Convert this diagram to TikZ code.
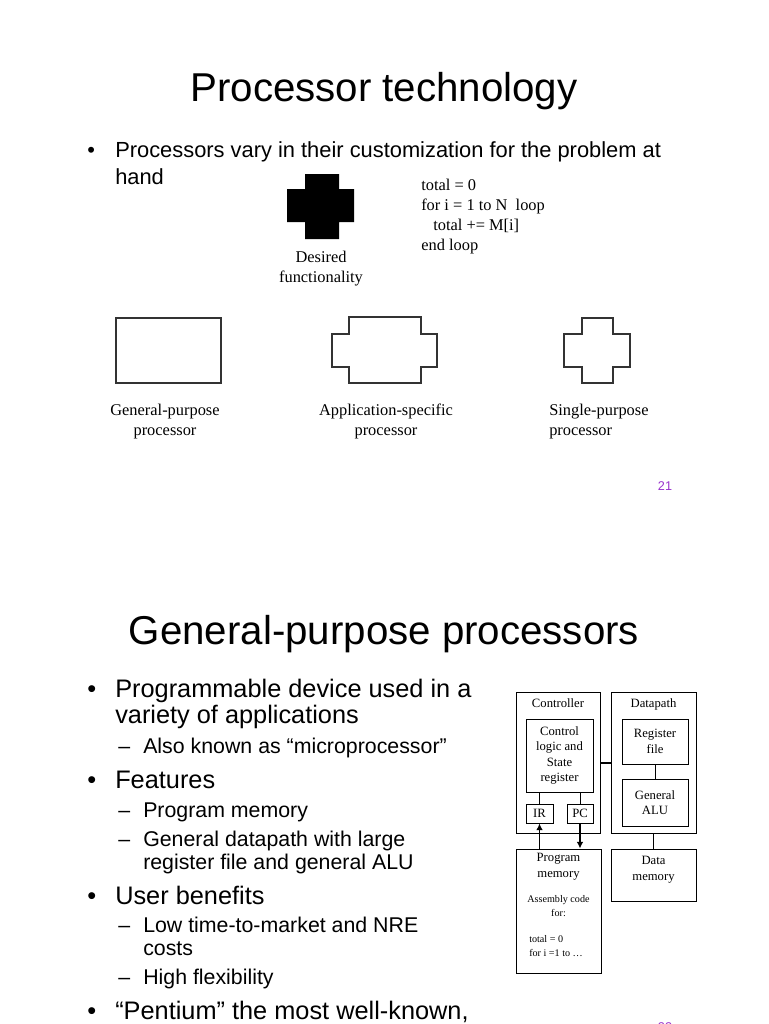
\documentclass[tikz,border=0pt]{standalone}
\usepackage{fontspec}
\setmainfont{Liberation Serif}
\setsansfont{Liberation Sans}
\usetikzlibrary{arrows.meta, positioning, calc}
\definecolor{pagenum}{RGB}{153,51,204}

\begin{document}
\begin{tikzpicture}[x=0.75pt, y=-0.75pt,
	title/.style={font=\sffamily\fontsize{30.2}{36}\selectfont, anchor=base, inner sep=0pt},
	txt/.style={font=\sffamily\fontsize{16.4}{19}\selectfont, anchor=base west, inner sep=0pt},
	big/.style={font=\sffamily\fontsize{19}{22}\selectfont, anchor=base west, inner sep=0pt},
	sub/.style={font=\sffamily\fontsize{16}{19}\selectfont, anchor=base west, inner sep=0pt},
	serif/.style={font=\rmfamily\fontsize{12.3}{15}\selectfont, anchor=base, inner sep=0pt},
	small/.style={font=\rmfamily\fontsize{9.5}{11.5}\selectfont, align=center, inner sep=0pt},
	tiny/.style={font=\rmfamily\fontsize{7.6}{10}\selectfont, inner sep=0pt},
	pnum/.style={font=\sffamily\fontsize{9.5}{11}\selectfont, text=pagenum, anchor=base, inner sep=0pt},
	outline/.style={draw=black!80, line width=0.9pt},
	box/.style={draw, line width=0.7pt, inner sep=0pt},
	bus/.style={line width=1.1pt, -{Latex[length=5pt, width=5pt]}}
	]
	\useasboundingbox[fill=white] (0,0) rectangle (768,1024);
	
	% --- SLIDE 21 ---
	\node[title] (t1) at (384,102) {Processor technology};
	\node[txt] (b0) at (87,157) {•};
	\node[txt] (p1a) at (115,157) {Processors vary in their customization for the problem at};
	\node[txt] (p1b) at (115,184) {hand};
	
	% Funcionalidad deseada
	\fill (305,174) -- (339,174) -- (339,189) -- (354,189) -- (354,222) -- (339,222)
		-- (339,239) -- (305,239) -- (305,222) -- (287,222) -- (287,189) -- (305,189) -- cycle;
	\node[serif] (des1) at (321,262) {Desired};
	\node[serif] (des2) at (321,282) {functionality};
	
	% Codigo
	\foreach \y/\x/\t in {190/421/{total = 0}, 210/421/{for i = 1 to N\ \ loop},
		230/433/{total += M[i]}, 250/421/{end loop}}
	\node[serif, anchor=base west] (code-\y) at (\x,\y) {\t};
	
	% Tres procesadores
	\draw[outline] (116,318) rectangle (221,383);
	\draw[outline] (349,317) -- (421,317) -- (421,334) -- (437,334) -- (437,367) -- (421,367)
		-- (421,383) -- (349,383) -- (349,367) -- (332,367) -- (332,334) -- (349,334) -- cycle;
	\draw[outline] (582,318) -- (613,318) -- (613,334) -- (630,334) -- (630,367) -- (613,367)
		-- (613,383) -- (582,383) -- (582,367) -- (564,367) -- (564,334) -- (582,334) -- cycle;
	
	\node[serif] (gp1) at (165,415) {General-purpose};
	\node[serif] (gp2) at (165,435) {processor};
	\node[serif] (as1) at (386,415) {Application-specific};
	\node[serif] (as2) at (386,435) {processor};
	\node[serif, anchor=base west] (sp1) at (549,415) {Single-purpose};
	\node[serif, anchor=base west] (sp2) at (549,435) {processor};
	
	\node[pnum] (n21) at (665,490) {21};
	
	% --- SLIDE 22 ---
	\node[title] (t2) at (384,644) {General-purpose processors};
	
	% Puntos principales
	\foreach \y/\t in {697/{Programmable device used in a}, 788/{Features},
		904/{User benefits}, 1019/{“Pentium” the most well-known,}} {
		\node[big] (bb-\y) at (87,\y) {•};
		\node[big] (bt-\y) at (115,\y) {\t};
	}
	\node[big] (bt-723) at (115,723) {variety of applications};
	
	% Subpuntos
	\foreach \y/\t in {753/{Also known as “microprocessor”}, 817/{Program memory},
		846/{General datapath with large}, 932/{Low time-to-market and NRE},
		984/{High flexibility}} {
		\node[sub] (sd-\y) at (118,\y) {–};
		\node[sub] (st-\y) at (143,\y) {\t};
	}
	\node[sub] (st-869) at (143,869) {register file and general ALU};
	\node[sub] (st-955) at (143,955) {costs};
	
	% Diagrama
	\node[box, minimum width=63pt, minimum height=105.75pt] (ctrl) at (558,762.5) {};
	\node[box, minimum width=63.75pt, minimum height=105.75pt] (dp) at (653.5,762.5) {};
	\node[small, anchor=base] (ctrl-l) at (558,707) {Controller};
	\node[small, anchor=base] (dp-l) at (653.5,707) {Datapath};
	
	\node[box, small, minimum width=50.25pt, minimum height=54.75pt] (logic) at (559.5,755.5)
		{Control\\logic and\\State\\register};
	\node[box, small, minimum width=20.25pt, minimum height=14.25pt] (ir) at (539.5,813.5) {IR};
	\node[box, small, minimum width=19.5pt, minimum height=14.25pt] (pc) at (580,813.5) {PC};
	\node[box, small, minimum width=49.5pt, minimum height=33.75pt] (rf) at (655,741.5) {Register\\file};
	\node[box, small, minimum width=49.5pt, minimum height=35.25pt] (alu) at (655,802.5) {General\\ALU};
	
	\node[box, minimum width=63.75pt, minimum height=93pt] (pmem) at (558.5,911) {};
	\node[box, minimum width=63.75pt, minimum height=39pt] (dmem) at (653.5,875) {};
	% ancla base = ultima linea
	\node[small, anchor=base] (pmem-l) at (558.5,877) {Program\\memory};
	\node[small, anchor=base] (dmem-l) at (653.5,880) {Data\\memory};
	\node[tiny, align=center, anchor=base] (asm) at (558.5,916) {Assembly code\\for:};
	\node[tiny, align=left, anchor=base west] (asm-code) at (529,956) {total = 0\\for i =1 to …};
	
	% Conexiones
	\draw[line width=0.7pt] (ir.north) -- (ir.north |- logic.south);
	\draw[line width=0.7pt] (pc.north) -- (pc.north |- logic.south);
	\draw[line width=0.7pt] (rf) -- (alu);
	\draw[line width=0.7pt] (dp) -- (dmem);
	\draw[line width=1.5pt] (ctrl.east) -- (dp.west);
	\draw[bus] (ir.south |- pmem.north) -- (ir.south);
	\draw[bus] (pc.south) -- (pc.south |- pmem.north);
	
	\node[pnum] (n22) at (665,1031) {22};
	
\end{tikzpicture}
\end{document}
